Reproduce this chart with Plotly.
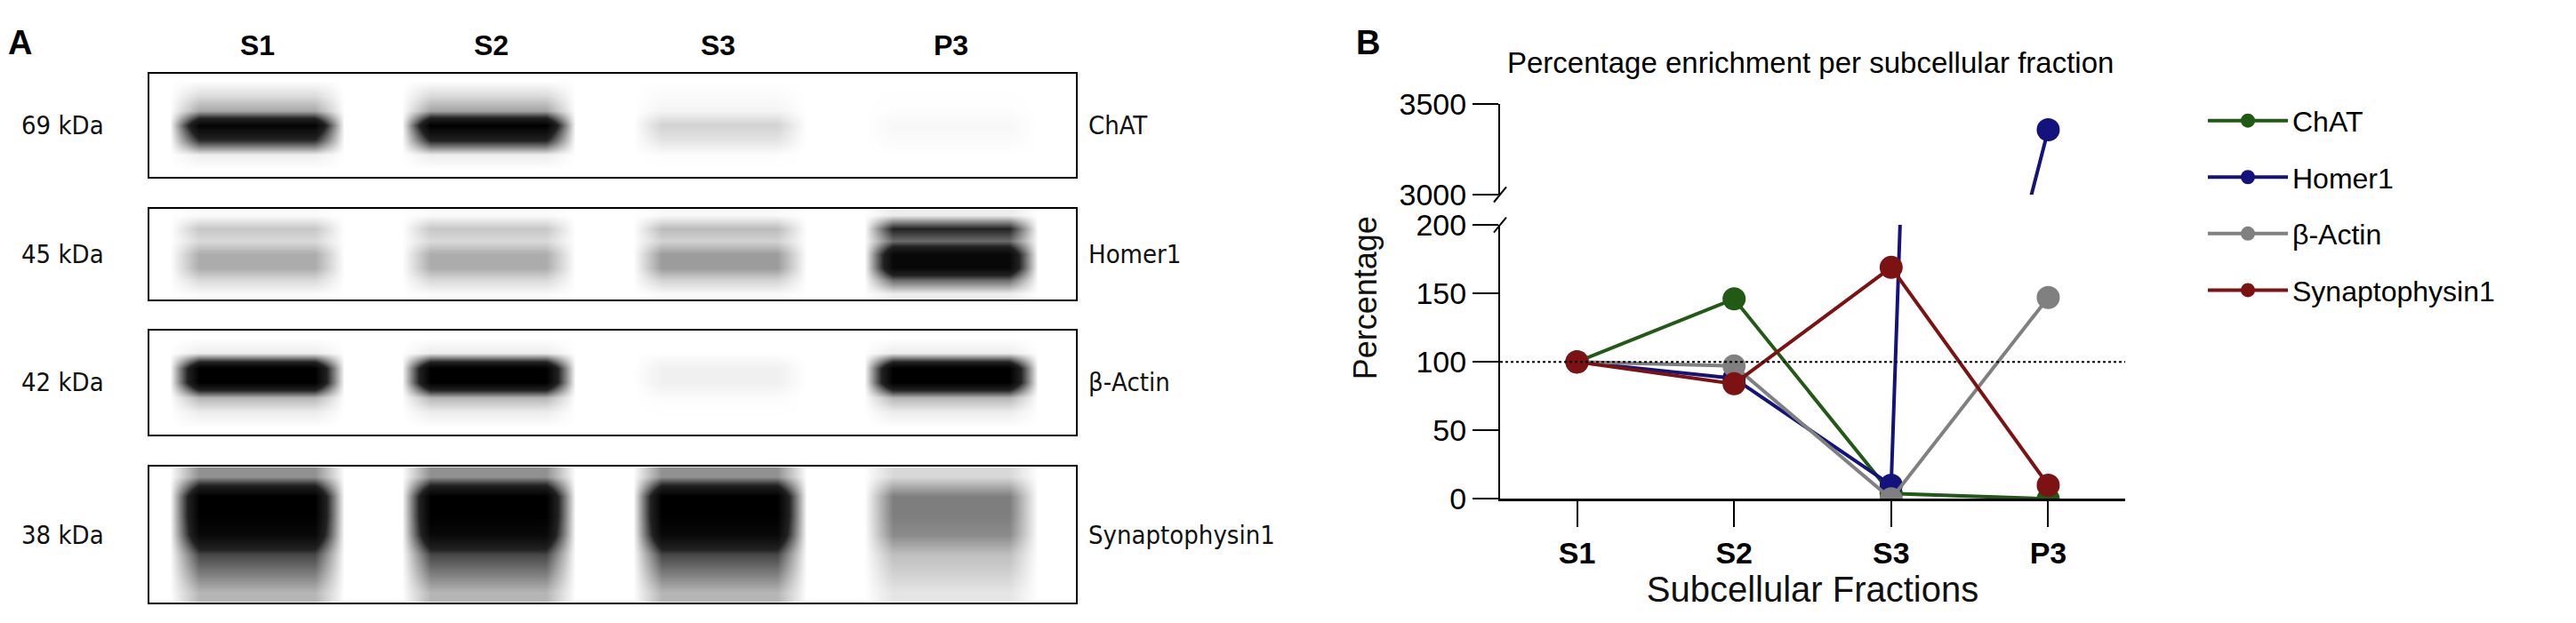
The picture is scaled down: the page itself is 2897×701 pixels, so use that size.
import plotly.graph_objects as go

W, H = 2897, 701
fractions = ["S1", "S2", "S3", "P3"]
chat = [100, 146, 4, 0]
homer1 = [100, 88, 10, 3357]
actin = [100, 97, 0, 147]
synapto = [100, 84, 169, 10]

proteins = ["ChAT", "Homer1", "β-Actin", "Synaptophysin1"]
kda = ["69 kDa", "45 kDa", "42 kDa", "38 kDa"]
# blot band intensity per lane (0..1)
band_chat = [0.95, 1.0, 0.12, 0.02]
band_homer = [0.25, 0.25, 0.3, 1.0]
band_actin = [1.0, 1.0, 0.04, 1.0]
band_syn = [1.0, 1.0, 1.0, 0.35]
# vertical band profiles (top->bottom rows)
prof_chat = [0.0, 0.1, 0.25, 1.0, 0.6, 0.05, 0.0]
prof_homer = [0.05, 0.6, 0.4, 0.9, 0.9, 0.4, 0.05]
prof_actin = [0.0, 0.05, 1.0, 1.0, 0.2, 0.05, 0.0]
prof_syn = [0.3, 1.0, 1.0, 0.9, 0.5, 0.35, 0.2]

colors = {"ChAT": "#215a14", "Homer1": "#14137d", "β-Actin": "#808080", "Synaptophysin1": "#7c1212"}

fig = go.Figure()
px = lambda v: v / W
py = lambda v: 1 - v / H

# ---- Panel A: blots
boxes = [(59, 182), (220, 328), (365, 488), (527, 688)]
bands = [band_chat, band_homer, band_actin, band_syn]
profs = [prof_chat, prof_homer, prof_actin, prof_syn]
xs = [i * 0.125 - 0.5 for i in range(33)]
for k in range(4):
    n = k + 3
    row = []
    for x in xs:
        v = 0
        for li, inten in enumerate(bands[k]):
            if abs(x - li) <= 0.36:
                v = inten
        row.append(v)
    z = [[p * r for r in row] for p in profs[k]]
    ys = list(range(len(profs[k])))[::-1]
    fig.add_trace(go.Heatmap(x=xs, y=ys, z=z, zmin=0, zmax=1, zsmooth="best",
                             colorscale=[[0, "white"], [0.6, "#222"], [1, "black"]],
                             showscale=False, hoverinfo="skip",
                             xaxis=f"x{n}", yaxis=f"y{n}"))
    t, b = boxes[k]
    fig.layout[f"xaxis{n}"] = dict(domain=[px(160), px(1202)], range=[-0.465, 3.54], anchor=f"y{n}",
                                   showline=True, mirror=True, linecolor="black", linewidth=2,
                                   showticklabels=False, ticks="", showgrid=False, zeroline=False)
    fig.layout[f"yaxis{n}"] = dict(domain=[py(b), py(t)], range=[-0.5, len(profs[k]) - 0.5],
                                   anchor=f"x{n}",
                                   showline=True, mirror=True, linecolor="black", linewidth=2,
                                   showticklabels=False, ticks="", showgrid=False, zeroline=False)
    fig.add_annotation(x=px(62), y=py((t + b) / 2), xref="paper", yref="paper", text=kda[k],
                       xanchor="center", yanchor="middle", showarrow=False,
                       font=dict(size=29, family="DejaVu Sans Condensed, DejaVu Sans", color="#111"))
    fig.add_annotation(x=px(1214), y=py((t + b) / 2), xref="paper", yref="paper", text=proteins[k],
                       xanchor="left", yanchor="middle", showarrow=False,
                       font=dict(size=29, family="DejaVu Sans Condensed, DejaVu Sans", color="#111"))
for lx, lab in zip([281, 544, 799, 1061], fractions):
    fig.add_annotation(x=px(lx), y=py(25), xref="paper", yref="paper", text=f"<b>{lab}</b>",
                       xanchor="center", yanchor="middle", showarrow=False,
                       font=dict(size=32, family="Liberation Sans", color="black"))
for lx, lab in [(14, "A"), (1530, "B")]:
    fig.add_annotation(x=px(lx), y=py(22), xref="paper", yref="paper", text=f"<b>{lab}</b>",
                       xanchor="center", yanchor="middle", showarrow=False,
                       font=dict(size=38, family="Liberation Sans", color="black"))

# ---- Panel B
series = [("ChAT", chat), ("Homer1", homer1), ("β-Actin", actin), ("Synaptophysin1", synapto)]
for name, vals in series:
    fig.add_trace(go.Scatter(x=fractions, y=vals, name=name, legendgroup=name, mode="lines+markers",
                             line=dict(color=colors[name], width=4),
                             marker=dict(size=26, color=colors[name]), xaxis="x", yaxis="y"))
fig.add_trace(go.Scatter(x=fractions, y=homer1, mode="lines+markers", showlegend=False, legendgroup="Homer1",
                         line=dict(color=colors["Homer1"], width=4),
                         marker=dict(size=26, color=colors["Homer1"]), xaxis="x", yaxis="y2"))

tfont = dict(size=34, family="Liberation Sans", color="black")
fig.update_layout(
    width=W, height=H, margin=dict(l=0, r=0, t=0, b=0),
    paper_bgcolor="white", plot_bgcolor="white",
    xaxis=dict(domain=[px(1679), px(2382)], range=[-0.49, 3.49], anchor="y",
               showline=True, linecolor="black", linewidth=3, ticks="outside", ticklen=29,
               tickwidth=2, tickcolor="black", showgrid=False, zeroline=False,
               tickfont=tfont, tickprefix="<b>", ticksuffix="</b>",
               title=dict(text="Subcellular Fractions", font=dict(size=40, family="Liberation Sans", color="#111"), standoff=8)),
    yaxis=dict(domain=[py(565), py(239)], range=[0, 200], tickvals=[0, 50, 100, 150, 200],
               showline=True, linecolor="black", linewidth=2, ticks="outside", ticklen=29,
               tickwidth=2, tickcolor="black", showgrid=False, zeroline=False,
               tickfont=tfont, tickprefix="<b>", ticksuffix="</b>"),
    yaxis2=dict(domain=[py(203), py(95)], range=[3000, 3500], tickvals=[3000, 3500], anchor="x",
                showline=True, linecolor="black", linewidth=2, ticks="outside", ticklen=29,
                tickwidth=2, tickcolor="black", showgrid=False, zeroline=False,
                tickfont=tfont, tickprefix="<b>", ticksuffix="</b>"),
    legend=dict(x=px(2470), y=py(86), xanchor="left", yanchor="top", traceorder="grouped",
                font=dict(size=32, family="Liberation Sans", color="black"),
                itemwidth=90, tracegroupgap=19),
    showlegend=True,
)
fig.add_hline(y=100, line=dict(color="black", width=2, dash="dot"), xref="x", yref="y")
fig.add_annotation(x=px(2028), y=py(46), xref="paper", yref="paper", xanchor="center", yanchor="middle",
                   text="Percentage enrichment per subcellular fraction", showarrow=False,
                   font=dict(size=33, family="Liberation Sans", color="black"))
fig.add_annotation(x=px(1527), y=py(326), xref="paper", yref="paper", text="Percentage",
                   xanchor="center", yanchor="middle",
                   textangle=-90, showarrow=False, font=dict(size=36, family="Liberation Sans", color="#111"))
for yc in (203, 239):
    fig.add_shape(type="line", xref="paper", yref="paper", x0=px(1672), x1=px(1686),
                  y0=py(yc + 9), y1=py(yc - 9), line=dict(color="black", width=2))
fig.write_html("out.html")
